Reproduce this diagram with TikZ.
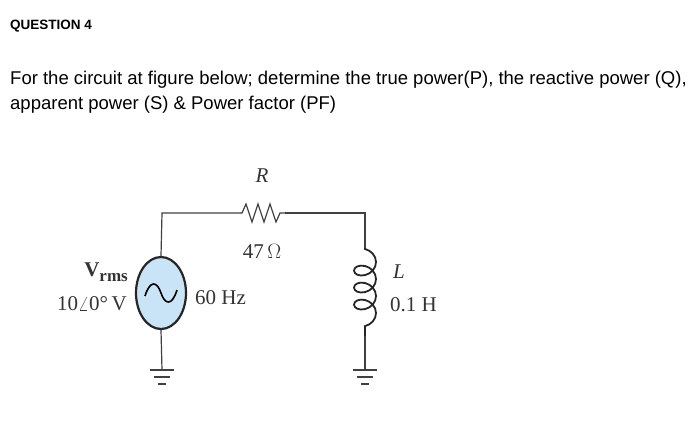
\documentclass[tikz,border=0pt]{standalone}
\usepackage{fontspec}
\setmainfont{Liberation Serif}
\setsansfont{Liberation Sans}
\usetikzlibrary{decorations.pathmorphing,shapes.geometric}
\definecolor{srcfill}{RGB}{200,228,246}
\begin{document}
\begin{tikzpicture}[x=1pt,y=-1pt,
  wire/.style={line width=1.2pt,draw=black!75},
  lbl/.style={font=\fontsize{21}{23}\selectfont,text=black!80,inner sep=0pt},
  gnd/.style={line width=2.2pt,draw=black!75}]
\useasboundingbox (0,0) rectangle (700,429);
\node[anchor=west,inner sep=0pt,font=\sffamily\bfseries\fontsize{13.5}{15}\selectfont] (q) at (10,26) {QUESTION 4};
\node[anchor=west,inner sep=0pt,font=\sffamily\fontsize{18.5}{20}\selectfont] (t1) at (10,80) {For the circuit at figure below; determine the true power(P), the reactive power (Q),};
\node[anchor=west,inner sep=0pt,font=\sffamily\fontsize{18.5}{20}\selectfont] (t2) at (10,105) {apparent power (S) \& Power factor (PF)};
% nodes
\coordinate (tl) at (162,213);
\coordinate (tr) at (365,213);
\coordinate (ra) at (240,213);
\coordinate (rb) at (285,213);
\node[ellipse,draw=black!85,line width=2.2pt,fill=srcfill,minimum width=50pt,minimum height=72pt,inner sep=0pt] (src) at (161,293) {};
\coordinate (sg) at (162,370);
\coordinate (la) at (365,248);
\coordinate (lb) at (365,336);
\coordinate (lg) at (365,370);
\draw[wire] (src.north) -- (tl) -- (ra);
\draw[wire] (ra) -- (242,213) -- (246,204) -- (252,222) -- (258,204) -- (264,222) -- (270,204) -- (276,222) -- (280,213) -- (rb);
\draw[wire] (rb) -- (tr) -- (la);
\draw[line width=1.8pt,draw=black!85,decorate,decoration={coil,aspect=0.8,segment length=17pt,amplitude=11pt,pre length=1pt,post length=1pt}] (la) -- (lb);
\draw[wire] (lb) -- (lg);
\draw[wire] (src.south) -- (sg);
\draw[line width=1.6pt] (145,296) .. controls (150,280) and (157,281) .. (161,293) .. controls (165,305) and (172,306) .. (177,290);
\foreach \g in {sg,lg}{
  \draw[gnd] ([xshift=-12pt]\g) -- ([xshift=12pt]\g);
  \draw[gnd] ([xshift=-8pt,yshift=-7pt]\g) -- ([xshift=8pt,yshift=-7pt]\g);
  \draw[gnd] ([xshift=-4pt,yshift=-14pt]\g) -- ([xshift=4pt,yshift=-14pt]\g);
}
% labels
\node[lbl,font=\itshape\fontsize{21}{23}\selectfont] (rl) at (262,176) {R};
\node[lbl] (rv) at (262,251) {47\,$\Omega$};
\node[lbl,anchor=east] (vr) at (128,272) {\textbf{V}\raisebox{-5pt}{\textbf{\fontsize{17}{18}\selectfont rms}}};
\node[lbl,anchor=east] (vv) at (127,304) {10$\angle$0°\,V};
\node[lbl,anchor=west] (hz) at (195,298) {60 Hz};
\node[lbl,anchor=west,font=\itshape\fontsize{21}{23}\selectfont] (ll) at (393,272) {L};
\node[lbl,anchor=west] (lv) at (390,305) {0.1 H};
\end{tikzpicture}
\end{document}
